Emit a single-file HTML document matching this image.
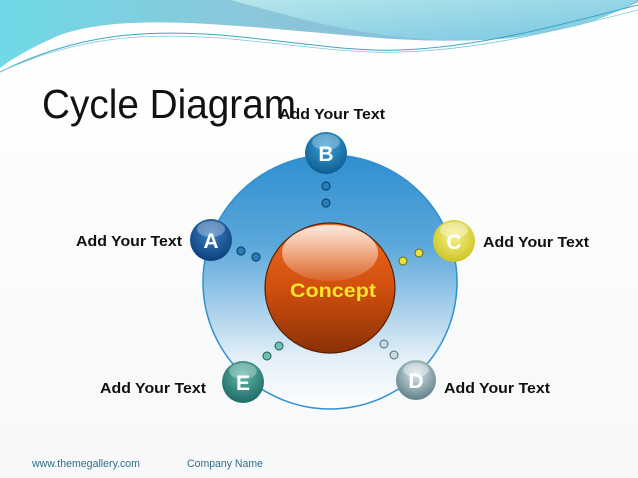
<!DOCTYPE html>
<html><head><meta charset="utf-8"><style>
html,body{margin:0;padding:0;background:#fff}
svg{display:block}
</style></head><body>
<svg width="638" height="478" viewBox="0 0 638 478" xmlns="http://www.w3.org/2000/svg" font-family="Liberation Sans, sans-serif">
<defs>
<linearGradient id="bg" x1="0" y1="0" x2="0" y2="1"><stop offset="0" stop-color="#ffffff"/><stop offset="1" stop-color="#f6f8f9"/></linearGradient>
<linearGradient id="wave1" x1="0" y1="0" x2="1" y2="0"><stop offset="0" stop-color="#6fd9e6"/><stop offset="0.4" stop-color="#8cc6db"/><stop offset="1" stop-color="#7fb7d6"/></linearGradient>
<linearGradient id="wave2" x1="0" y1="0" x2="1" y2="1"><stop offset="0" stop-color="#b6e6ea"/><stop offset="1" stop-color="#78c6e3"/></linearGradient>
<linearGradient id="big" x1="0" y1="0" x2="0" y2="1"><stop offset="0" stop-color="#2f8fd0"/><stop offset="0.35" stop-color="#5aa7da"/><stop offset="0.8" stop-color="#e4eff8"/><stop offset="1" stop-color="#ffffff"/></linearGradient>
<linearGradient id="con" x1="0" y1="0" x2="0" y2="1"><stop offset="0" stop-color="#f06a1e"/><stop offset="0.5" stop-color="#d14f0e"/><stop offset="1" stop-color="#8a3106"/></linearGradient>
<linearGradient id="shine" x1="0" y1="0" x2="0" y2="1"><stop offset="0" stop-color="#fff" stop-opacity="0.85"/><stop offset="1" stop-color="#fff" stop-opacity="0.1"/></linearGradient>
<radialGradient id="gA" cx="0.5" cy="0.35" r="0.65"><stop offset="0" stop-color="#3a7fc4"/><stop offset="1" stop-color="#0c3f7a"/></radialGradient>
<radialGradient id="gB" cx="0.5" cy="0.35" r="0.65"><stop offset="0" stop-color="#3aa0d6"/><stop offset="1" stop-color="#0d5e92"/></radialGradient>
<radialGradient id="gC" cx="0.5" cy="0.4" r="0.65"><stop offset="0" stop-color="#f6f08a"/><stop offset="1" stop-color="#c9c21c"/></radialGradient>
<radialGradient id="gD" cx="0.5" cy="0.35" r="0.65"><stop offset="0" stop-color="#d8e8ec"/><stop offset="1" stop-color="#5f7f88"/></radialGradient>
<radialGradient id="gE" cx="0.5" cy="0.35" r="0.65"><stop offset="0" stop-color="#5fb8a8"/><stop offset="1" stop-color="#1f6a66"/></radialGradient>
</defs>
<rect width="638" height="478" fill="url(#bg)"/>
<path d="M0 0 H638 V2 C560 40 480 45 380 38 C250 28 130 10 60 35 C30 48 10 60 0 68 Z" fill="url(#wave1)"/>
<path d="M230 0 H638 V0 C600 25 520 48 410 38 C330 30 270 10 230 0 Z" fill="url(#wave2)"/>
<path d="M0 72 C60 40 120 28 180 32 C260 38 330 52 400 50 C480 48 560 30 638 12 V22 C560 40 480 58 400 56 C320 54 250 40 180 38 C120 34 60 48 0 72 Z" fill="#fff" opacity="0.8"/>
<path d="M0 72 C80 32 150 30 220 35 C300 42 350 52 400 50 C480 47 560 25 638 5" fill="none" stroke="#3aa6c6" stroke-width="1"/>
<path d="M0 72 C80 35 150 33 220 38 C300 45 350 54 400 52 C480 50 560 30 638 10" fill="none" stroke="#7cc8d8" stroke-width="0.8"/>
<text x="42" y="118" font-size="41" fill="#111" textLength="254" lengthAdjust="spacingAndGlyphs">Cycle Diagram</text>
<circle cx="330" cy="282" r="127" fill="url(#big)" stroke="#2f8fd0" stroke-width="1.5"/>
<circle cx="330" cy="288" r="65" fill="url(#con)" stroke="#5a1f05" stroke-width="1.2"/>
<ellipse cx="330" cy="253" rx="48" ry="28" fill="url(#shine)"/>
<text x="290" y="297" font-size="19" font-weight="bold" fill="#f3e52a" textLength="86" lengthAdjust="spacingAndGlyphs">Concept</text>
<g stroke="#0b4a70" stroke-width="1.2" fill="#2a7fb6">
<circle cx="326" cy="186" r="4"/><circle cx="326" cy="203" r="4"/>
<circle cx="241" cy="251" r="4"/><circle cx="256" cy="257" r="4"/>
</g>
<g stroke="#6a6a10" stroke-width="1" fill="#e9e03a"><circle cx="419" cy="253" r="4"/><circle cx="403" cy="261" r="4"/></g>
<g stroke="#4f6e76" stroke-width="1" fill="#c6dbe0"><circle cx="384" cy="344" r="4"/><circle cx="394" cy="355" r="4"/></g>
<g stroke="#1f5a55" stroke-width="1" fill="#6fc2b0"><circle cx="279" cy="346" r="4"/><circle cx="267" cy="356" r="4"/></g>
<g font-size="21" font-weight="bold" fill="#fff" text-anchor="middle">
<circle cx="326" cy="153" r="21" fill="url(#gB)"/><ellipse cx="326" cy="142" rx="14" ry="8" fill="#fff" opacity="0.3"/><text x="326" y="161">B</text>
<circle cx="211" cy="240" r="21" fill="url(#gA)"/><ellipse cx="211" cy="229" rx="14" ry="8" fill="#fff" opacity="0.3"/><text x="211" y="248">A</text>
<circle cx="454" cy="241" r="21" fill="url(#gC)"/><ellipse cx="454" cy="230" rx="14" ry="8" fill="#fff" opacity="0.4"/><text x="454" y="249">C</text>
<circle cx="416" cy="380" r="20" fill="url(#gD)"/><ellipse cx="416" cy="370" rx="13" ry="7" fill="#fff" opacity="0.4"/><text x="416" y="388">D</text>
<circle cx="243" cy="382" r="21" fill="url(#gE)"/><ellipse cx="243" cy="371" rx="14" ry="8" fill="#fff" opacity="0.3"/><text x="243" y="390">E</text>
</g>
<g font-size="15" font-weight="bold" fill="#111">
<text x="279" y="119" textLength="106" lengthAdjust="spacingAndGlyphs">Add Your Text</text>
<text x="76" y="246" textLength="106" lengthAdjust="spacingAndGlyphs">Add Your Text</text>
<text x="483" y="247" textLength="106" lengthAdjust="spacingAndGlyphs">Add Your Text</text>
<text x="100" y="393" textLength="106" lengthAdjust="spacingAndGlyphs">Add Your Text</text>
<text x="444" y="393" textLength="106" lengthAdjust="spacingAndGlyphs">Add Your Text</text>
</g>
<g font-size="11" fill="#2e6f8a">
<text x="32" y="467" textLength="108" lengthAdjust="spacingAndGlyphs">www.themegallery.com</text>
<text x="187" y="467" textLength="76" lengthAdjust="spacingAndGlyphs">Company Name</text>
</g>
</svg>
</body></html>
